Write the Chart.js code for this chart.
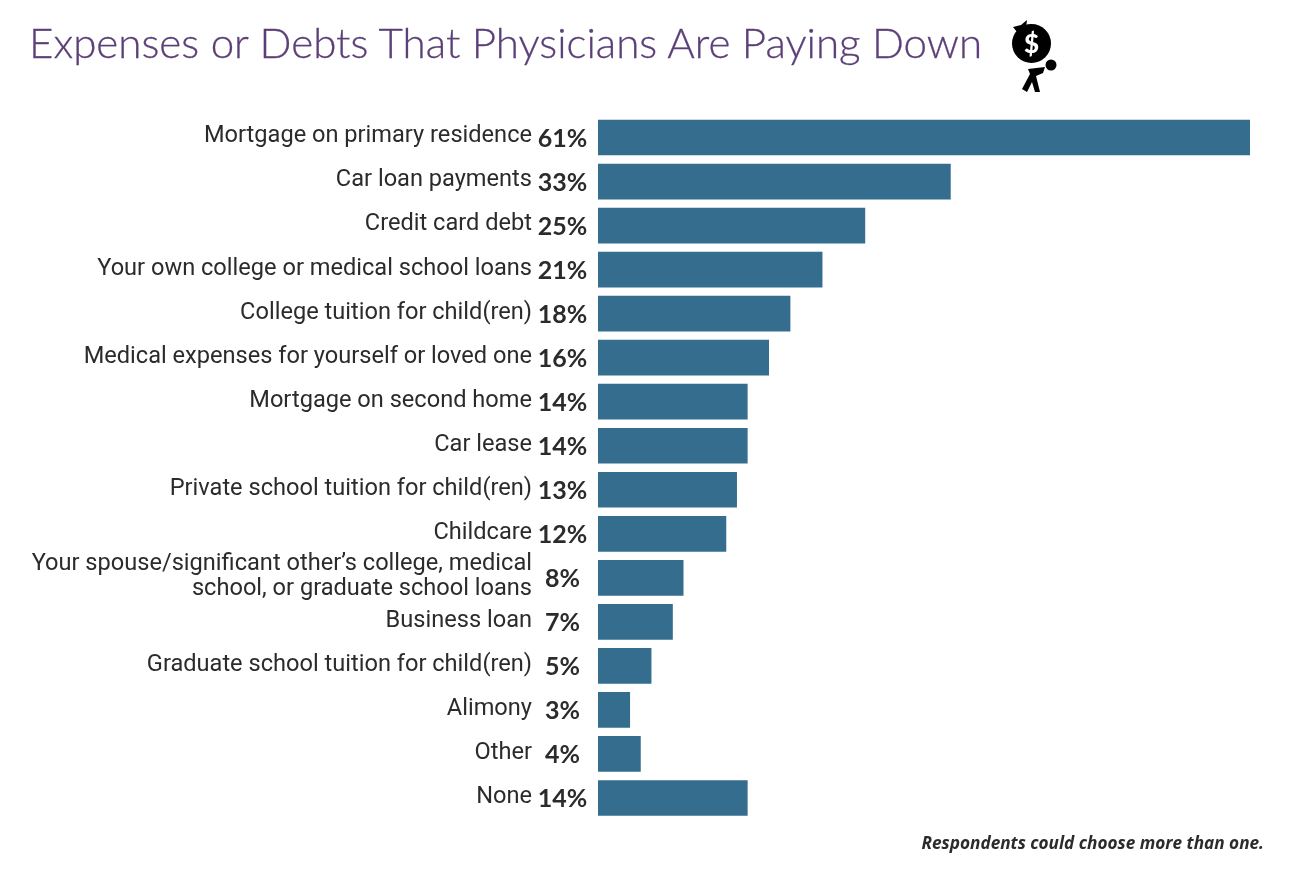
<!DOCTYPE html>
<html>
<head>
<meta charset="utf-8">
<title>Expenses or Debts That Physicians Are Paying Down</title>
<script src="https://cdn.jsdelivr.net/npm/chart.js@4"></script>
<style>
  html, body { margin: 0; padding: 0; background: #fff; }
  #wrap { position: relative; width: 1290px; height: 878px; overflow: hidden; }
  #chart { position: absolute; left: 0; top: 0; }
  #heading {
    position: absolute; left: 29px; top: 16px; margin: 0;
    font: 300 42.1px/52px Lato, sans-serif; color: #5b3f78; white-space: nowrap;
    -webkit-text-stroke: 0.3px #5b3f78;
  }
  #note {
    position: absolute; right: 26px; top: 832px;
    font: italic 700 17.2px/22px "Open Sans", sans-serif; color: #2b2b2b; white-space: nowrap;
  }
  #icon { position: absolute; left: 1005px; top: 16px; }
</style>
</head>
<body>
<div id="wrap">
  <canvas id="chart" width="1290" height="878"></canvas>
  <h1 id="heading">Expenses or Debts That Physicians Are Paying Down</h1>
  <div id="note">Respondents could choose more than one.</div>
  <svg id="icon" width="60" height="80" viewBox="0 0 60 80">
    <path d="M8 11 L16 9 L22 4 L21 12 L26 14 L18 22 L12 16 Z" fill="#000"/>
    <circle cx="26.5" cy="27.5" r="19.5" fill="#000"/>
    <text x="26.5" y="36.5" text-anchor="middle" font-family="Lato, sans-serif" font-weight="900" font-size="26" fill="#fff">$</text>
    <circle cx="46" cy="49" r="5.5" fill="#000"/>
    <path d="M23 53 L40 51 L38 57 L31 60 L35 76 L30 76 L27 66 L22 76 L17 73 L25 58 Z" fill="#000"/>
  </svg>
</div>
<script>
const categories = [
  "Mortgage on primary residence",
  "Car loan payments",
  "Credit card debt",
  "Your own college or medical school loans",
  "College tuition for child(ren)",
  "Medical expenses for yourself or loved one",
  "Mortgage on second home",
  "Car lease",
  "Private school tuition for child(ren)",
  "Childcare",
  ["Your spouse/significant other\u2019s college, medical", "school, or graduate school loans"],
  "Business loan",
  "Graduate school tuition for child(ren)",
  "Alimony",
  "Other",
  "None"
];
const percents = [61, 33, 25, 21, 18, 16, 14, 14, 13, 12, 8, 7, 5, 3, 4, 14];

// prints each percentage in the gutter between the axis labels and the bars
const percentLabels = {
  id: "percentLabels",
  afterDatasetsDraw(chart) {
    const { ctx, scales } = chart;
    ctx.save();
    ctx.font = "700 25px Lato, sans-serif";
    ctx.fillStyle = "#2b2b2b";
    ctx.textAlign = "center";
    ctx.textBaseline = "middle";
    percents.forEach((value, i) => {
      ctx.fillText(value + "%", 562.5, scales.y.getPixelForValue(i) + 1);
    });
    ctx.restore();
  }
};

new Chart(document.getElementById("chart").getContext("2d"), {
  type: "bar",
  plugins: [percentLabels],
  data: {
    labels: categories,
    datasets: [{
      data: percents,
      backgroundColor: "#346d8e",
      barPercentage: 0.81,
      categoryPercentage: 1
    }]
  },
  options: {
    indexAxis: "y",
    responsive: false,
    animation: false,
    layout: { padding: { top: 115.5, bottom: 58, left: 0, right: 40 } },
    plugins: { legend: { display: false }, tooltip: { enabled: false } },
    scales: {
      x: { display: false, min: 0, max: 61 },
      y: {
        // fixed gutter for the labels, and no extra room for the first and last tick
        afterFit(axis) {
          axis.width = 598;
          axis.paddingTop = 0;
          axis.paddingBottom = 0;
        },
        grid: { display: false },
        border: { display: false },
        ticks: {
          autoSkip: false,
          padding: 58,
          labelOffset: -1,
          color: "#2b2b2b",
          font: { family: "Roboto, sans-serif", size: 23.6, lineHeight: 1.06 }
        }
      }
    }
  }
});
</script>
</body>
</html>
